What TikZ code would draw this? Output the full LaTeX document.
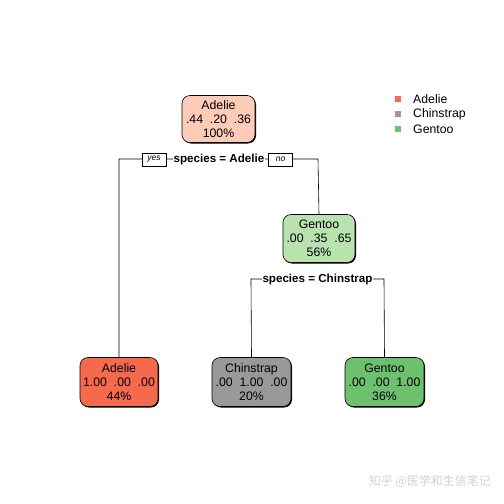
\documentclass[tikz,border=0pt]{standalone}
\usepackage{fontspec}
\setmainfont{Liberation Sans}
\newfontfamily\cjk{Noto Sans CJK SC}
\usetikzlibrary{shadows}
\definecolor{rootfill}{HTML}{FCCCB9}
\definecolor{adeliefill}{HTML}{F5694D}
\definecolor{chinfill}{HTML}{999999}
\definecolor{gentfill}{HTML}{6DC06D}
\definecolor{gentlight}{HTML}{B8E2AF}
\definecolor{wmark}{HTML}{D2D2D2}
\begin{document}
\begin{tikzpicture}[x=1pt,y=-1pt,
  treenode/.style={draw=black, line width=0.6pt, rounded corners=8pt, align=center,
    font=\fontsize{12.3}{14}\selectfont, inner sep=0pt,
    drop shadow={shadow xshift=1pt, shadow yshift=-1pt, opacity=1, fill=black}},
  splitlabel/.style={font=\bfseries\fontsize{11.6}{14}\selectfont, fill=white, inner sep=1pt},
  yesno/.style={draw=black, line width=0.5pt, fill=white, font=\itshape\fontsize{8.5}{10}\selectfont, inner sep=1pt, minimum width=24pt, minimum height=12.5pt},
  edge/.style={draw=black, line width=0.6pt},
  legsq/.style={minimum size=6.5pt, inner sep=0pt},
  legtxt/.style={anchor=west, font=\fontsize{12.3}{14}\selectfont, inner sep=0pt}]
\useasboundingbox[fill=white] (0,0) rectangle (504,504);

% split lines
\coordinate (r1l) at (119,159);
\coordinate (r1r) at (318,159);
\coordinate (r2l) at (251,279);
\coordinate (r2r) at (384,279);

% nodes
\node[treenode, fill=rootfill, minimum width=73pt, minimum height=47pt] (root) at (218.5,119) {Adelie\\.44\ \ .20\ \ .36\\100\%};
\node[treenode, fill=gentlight, minimum width=72pt, minimum height=48pt] (gent) at (319,238.5) {Gentoo\\.00\ \ .35\ \ .65\\56\%};
\node[treenode, fill=adeliefill, minimum width=78pt, minimum height=49pt] (leafA) at (119,382) {Adelie\\1.00\ \ .00\ \ .00\\44\%};
\node[treenode, fill=chinfill, minimum width=79pt, minimum height=49pt] (leafC) at (251.5,382) {Chinstrap\\.00\ \ 1.00\ \ .00\\20\%};
\node[treenode, fill=gentfill, minimum width=79pt, minimum height=49pt] (leafG) at (384.5,382) {Gentoo\\.00\ \ .00\ \ 1.00\\36\%};

% connectors
\draw[edge] (leafA.north) -- (r1l) -- (r1r) -- (gent.north);
\draw[edge] (leafC.north) -- (r2l) -- (r2r) -- (leafG.north);

% labels
\node[splitlabel] (s1) at (219,159) {species = Adelie};
\node[yesno] (yes) at (154,159.5) {yes};
\node[yesno] (no) at (280.5,159.5) {no};
\node[splitlabel] (s2) at (317.5,279) {species = Chinstrap};

% legend
\node[legsq, fill=adeliefill] (lq1) at (398,99) {};
\node[legsq, fill=chinfill] (lq2) at (398,114) {};
\node[legsq, fill=gentfill] (lq3) at (398,129) {};
\node[legtxt] (lt1) at (413,99.5) {Adelie};
\node[legtxt] (lt2) at (413,114.5) {Chinstrap};
\node[legtxt] (lt3) at (413,129.5) {Gentoo};

% watermark
\node[anchor=east, text=wmark, font=\cjk\fontsize{12}{14}\selectfont, inner sep=0pt] (wm) at (491,481) {知乎 @医学和生信笔记};
\end{tikzpicture}
\end{document}
